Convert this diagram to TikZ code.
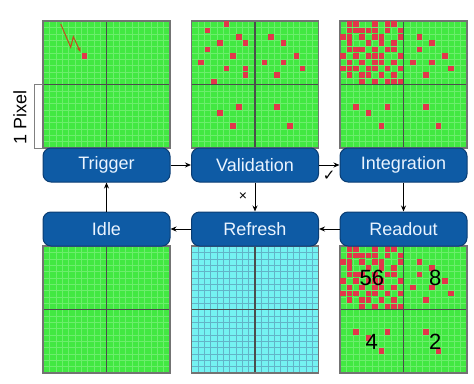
\documentclass[tikz,border=0pt]{standalone}
\usepackage{fontspec}
\setmainfont{Liberation Sans}
\newfontfamily\symfont{DejaVu Sans}
\usetikzlibrary{arrows.meta}

\definecolor{pixgreen}{HTML}{42E842}
\definecolor{pixgridgreen}{HTML}{6CEE6C}
\definecolor{pixcyan}{HTML}{74F2F2}
\definecolor{pixgridcyan}{HTML}{62B4C8}
\definecolor{hitred}{HTML}{E2364A}
\definecolor{stageblue}{HTML}{0E5BA5}
\definecolor{stageedge}{HTML}{0A3D73}
\definecolor{stagetext}{HTML}{EAF4FF}
\definecolor{sparkred}{HTML}{C8481E}

% one detector tile of 2x2 pixels, each 10x10 cells
\newcommand{\pixpanel}[4]{%
  \fill[#3] (#1,#2) rectangle ++(127,127);
  \foreach \k in {1,...,19}{
    \draw[#4, line width=.35pt] ({#1+\k*6.35},#2) -- ++(0,127);
    \draw[#4, line width=.35pt] (#1,{#2+\k*6.35}) -- ++(127,0);
  }
  \draw[black!70, line width=1.4pt] ({#1+63.5},#2) -- ++(0,127)
    (#1,{#2+63.5}) -- ++(127,0);
  \draw[black!55, line width=1.2pt] (#1,#2) rectangle ++(127,127);
}
% hit cells, given as column/row
\newcommand{\hits}[3]{%
  \foreach \c/\r in #3
    \fill[hitred] ({#1+\c*6.35+.4},{#2+\r*6.35+.4}) rectangle ++(5.55,5.55);
}

\def\trigHit{6/5}
\def\valTL{5/0,2/1,7/2,4/3,8/3,2/4,6/5,1/6,5/7,8/7,8/8,3/9}
\def\valTR{12/2,14/3,16/5,11/6,14/6,17/7,13/8}
\def\valBL{7/13,4/14,6/16}
\def\valBR{13/13,15/16}
\def\intTL{1/0,2/0,5/0,7/0,8/0,
  1/1,2/1,3/1,4/1,5/1,7/1,9/1,
  0/2,1/2,3/2,5/2,6/2,9/2,
  1/3,4/3,6/3,8/3,
  1/4,2/4,3/4,5/4,7/4,8/4,
  0/5,2/5,4/5,5/5,6/5,9/5,
  1/6,3/6,5/6,6/6,8/6,
  0/7,1/7,2/7,4/7,5/7,7/7,9/7,
  1/8,3/8,4/8,6/8,8/8,
  3/9,5/9,7/9,8/9,9/9}
\def\intTR{12/2,14/3,12/4,16/5,11/6,14/6,17/7,13/8}
\def\intBL{2/13,7/13,4/14,6/16}

\tikzset{
  stage/.style={draw=stageedge, line width=1pt, fill=stageblue,
    rounded corners=8pt, minimum width=127pt, minimum height=34pt,
    inner sep=0pt, text=stagetext, font=\fontsize{18}{20}\selectfont},
  flow/.style={-{Stealth[length=6pt,width=5pt]}, line width=1pt},
  count/.style={font=\fontsize{22}{24}\selectfont}
}

\begin{document}
\begin{tikzpicture}[x=1pt,y=-1pt]
  \useasboundingbox (0,0) rectangle (474,383);

  % top row
  \pixpanel{43}{21}{pixgreen}{pixgridgreen}
  \hits{43}{21}{\trigHit}
  \pixpanel{191.5}{21}{pixgreen}{pixgridgreen}
  \hits{191.5}{21}{\valTL}
  \hits{191.5}{21}{\valTR}
  \hits{191.5}{21}{\valBL}
  \hits{191.5}{21}{\valBR}
  \pixpanel{340}{21}{pixgreen}{pixgridgreen}
  \hits{340}{21}{\intTL}
  \hits{340}{21}{\intTR}
  \hits{340}{21}{\intBL}
  \hits{340}{21}{\valBR}

  % incoming particle
  \draw[sparkred, line width=1pt, -{Stealth[length=5pt,width=4pt]}]
    (60.7,24) -- (70.7,47.3) -- (73.3,36.7) -- (80.5,52);

  % bottom row
  \pixpanel{43}{246}{pixgreen}{pixgridgreen}
  \pixpanel{191.5}{246}{pixcyan}{pixgridcyan}
  \pixpanel{340}{246}{pixgreen}{pixgridgreen}
  \hits{340}{246}{\intTL}
  \hits{340}{246}{\intTR}
  \hits{340}{246}{\intBL}
  \hits{340}{246}{\valBR}
  \node[count] (n56) at (371.75,278) {56};
  \node[count] (n8) at (435.25,278) {8};
  \node[count] (n4) at (371.75,341.5) {4};
  \node[count] (n2) at (435.25,341.5) {2};

  % pixel size
  \draw[black!50, line width=.8pt] (43,84.5) -- (34,84.5) -- (34,148) -- (43,148);
  \node[rotate=90, font=\fontsize{18}{20}\selectfont] (pixlbl) at (20,117) {1 Pixel};

  % states
  \node[stage] (trig) at (106.5,165) {Trigger};
  \node[stage] (valid) at (255,165) {Validation};
  \node[stage] (integ) at (403.5,165) {Integration};
  \node[stage] (idle) at (106.5,229) {Idle};
  \node[stage] (fresh) at (255,229) {Refresh};
  \node[stage] (rdout) at (403.5,229) {Readout};

  \draw[flow] (trig) -- (valid);
  \draw[flow] (valid) -- node[below=2pt, font=\symfont\fontsize{15}{15}\selectfont] {✓} (integ);
  \draw[flow] (valid) -- node[left=4pt, font=\fontsize{14}{14}\selectfont] {×} (fresh);
  \draw[flow] (integ) -- (rdout);
  \draw[flow] (rdout) -- (fresh);
  \draw[flow] (fresh) -- (idle);
  \draw[flow] (idle) -- (trig);
\end{tikzpicture}
\end{document}
